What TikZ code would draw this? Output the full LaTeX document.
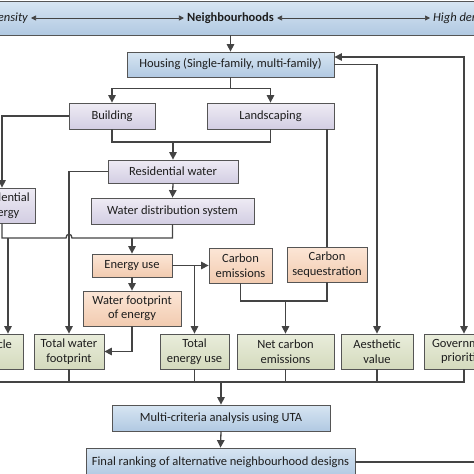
\documentclass[tikz,border=0pt]{standalone}
\usepackage{fontspec}
\setmainfont{Carlito}
\usetikzlibrary{arrows.meta}
\definecolor{lnc}{HTML}{444444}
\definecolor{bdc}{HTML}{555555}
\definecolor{bluet}{HTML}{D7E5F2}
\definecolor{blueb}{HTML}{B1C9E2}
\definecolor{purt}{HTML}{EEEBF4}
\definecolor{purb}{HTML}{D3CEE3}
\definecolor{orat}{HTML}{FCE6D6}
\definecolor{orab}{HTML}{F2CBB0}
\definecolor{grnt}{HTML}{E9EDDB}
\definecolor{grnb}{HTML}{D4DABD}
\definecolor{txc}{HTML}{1E1E1E}
\tikzset{
  box/.style={draw=bdc, line width=0.8pt, inner sep=0pt, align=center, text=txc,
    font=\fontsize{12.5}{14.5}\selectfont},
  bluebox/.style={box, top color=bluet, bottom color=blueb},
  purbox/.style={box, top color=purt, bottom color=purb},
  orabox/.style={box, top color=orat, bottom color=orab},
  grnbox/.style={box, top color=grnt, bottom color=grnb},
  lbl/.style={inner sep=3pt, text=txc, font=\fontsize{12.5}{14.5}\selectfont},
  conn/.style={draw=lnc, line width=1.3pt},
  arr/.style={conn, -{Triangle[length=7.5pt,width=7.5pt]}},
  dblarr/.style={conn, {Triangle[length=7.5pt,width=7.5pt]}-{Triangle[length=7.5pt,width=7.5pt]}},
  thinarr/.style={draw=lnc, line width=0.7pt, {Triangle[length=5pt,width=5pt]}-{Triangle[length=5pt,width=5pt]}}
}
\begin{document}
\begin{tikzpicture}[x=1pt,y=-1pt]
\useasboundingbox (0,0) rectangle (474,474);
\clip (0,0) rectangle (474,474);

% banner
\node[bluebox, minimum width=484pt, minimum height=34pt] (banner) at (237,18) {};
\node[lbl, anchor=east, font=\fontsize{12.5}{14.5}\selectfont\itshape] (low) at (31,18) {Low density};
\node[lbl, font=\fontsize{12.5}{14.5}\selectfont\bfseries] (nb) at (230.5,18) {Neighbourhoods};
\node[lbl, anchor=west, font=\fontsize{12.5}{14.5}\selectfont\itshape] (high) at (430,18) {High density};
\draw[thinarr] (low.east) -- (nb.west);
\draw[thinarr] (nb.east) -- (high.west);

% boxes
\node[bluebox, minimum width=207pt, minimum height=25pt] (housing) at (230.5,64.5) {Housing (Single-family, multi-family)};
\node[purbox, minimum width=86pt, minimum height=26pt] (building) at (112,116) {Building};
\node[purbox, minimum width=127pt, minimum height=26pt] (landscaping) at (270.5,116) {Landscaping};
\node[purbox, minimum width=66pt, minimum height=35pt] (resenergy) at (2,205.5) {Residential\\energy};
\node[purbox, minimum width=130pt, minimum height=23pt] (reswater) at (173,171.5) {Residential water};
\node[purbox, minimum width=163pt, minimum height=26pt] (wds) at (172.5,211) {Water distribution system};
\node[orabox, minimum width=80pt, minimum height=23pt] (eu) at (132,265.5) {Energy use};
\node[orabox, minimum width=98pt, minimum height=35pt] (wfe) at (132,308.5) {Water footprint\\of energy};
\node[orabox, minimum width=63pt, minimum height=35pt] (ce) at (240.5,265.5) {Carbon\\emissions};
\node[orabox, minimum width=80pt, minimum height=35pt] (cs) at (327,264.5) {Carbon\\sequestration};

\node[grnbox, minimum width=68pt, minimum height=35pt] (lcc) at (-11,351.5) {Life cycle\\cost};
\node[grnbox, minimum width=70pt, minimum height=35pt] (twf) at (69,351.5) {Total water\\footprint};
\node[grnbox, minimum width=69pt, minimum height=35pt] (teu) at (194.5,351.5) {Total\\energy use};
\node[grnbox, minimum width=97pt, minimum height=35pt] (nce) at (285.5,351.5) {Net carbon\\emissions};
\node[grnbox, minimum width=72pt, minimum height=35pt] (av) at (377,351.5) {Aesthetic\\value};
\node[grnbox, minimum width=80pt, minimum height=35pt] (gp) at (464,351.5) {Government\\priorities};

\node[bluebox, minimum width=218pt, minimum height=26pt] (mca) at (221,418) {Multi-criteria analysis using UTA};
\node[bluebox, minimum width=269pt, minimum height=28pt] (fr) at (220.5,462) {Final ranking of alternative neighbourhood designs};

% helper coordinates
\coordinate (j1) at (173,142);
\coordinate (bus1) at (0,238);
\coordinate (x8) at (8,238);
\coordinate (j3) at (285.5,301);
\coordinate (bus2) at (0,382);
\coordinate (fbk) at (480,462);

% connectors
\draw[arr] (banner.south -| housing.north) -- (housing.north);
\draw[arr] (housing.south) -- ++(0,11) -| (building.north);
\draw[arr] (housing.south) -- ++(0,11) -| (landscaping.north);
\draw[arr] (housing.east) -| (av.north);
\draw[dblarr] (gp.north) |- ([yshift=7.5pt]housing.east);
\draw[arr] (building.west) -| (resenergy.north);
\draw[conn] (building.south) |- (j1);
\draw[conn] (landscaping.south) |- (j1);
\draw[arr] (j1) -- (reswater.north);
\draw[arr] (reswater.south) -- (wds.north);
\draw[arr] (reswater.west) -| (twf.north);
\draw[conn] (resenergy.south) |- (66,238) .. controls (66,233) and (72,233) .. (72,238) -- (wds.south |- bus1) -- (wds.south);
\draw[arr] (x8) -- (lcc.north -| x8);
\draw[arr] (eu.north |- bus1) -- (eu.north);
\draw[arr] (eu.south) -- (wfe.north);
\draw[arr] (wfe.south) |- (twf.east);
\draw[arr] (eu.east) -- (ce.west);
\draw[arr] (eu.east -| teu.north) -- (teu.north);
\draw[conn] (landscaping.south -| cs.north) -- (cs.north);
\draw[conn] (ce.south) |- (j3);
\draw[conn] (cs.south) |- (j3);
\draw[arr] (j3) -- (nce.north);
\draw[conn] (gp.south) |- (lcc.south |- bus2) -- (lcc.south);
\draw[conn] (twf.south) -- (twf.south |- bus2);
\draw[conn] (teu.south) -- (teu.south |- bus2);
\draw[conn] (nce.south) -- (nce.south |- bus2);
\draw[conn] (av.south) -- (av.south |- bus2);
\draw[arr] (mca.north |- bus2) -- (mca.north);
\draw[arr] (mca.south) -- (fr.north);
\draw[conn] (fr.east) -- (fbk);
\end{tikzpicture}
\end{document}
